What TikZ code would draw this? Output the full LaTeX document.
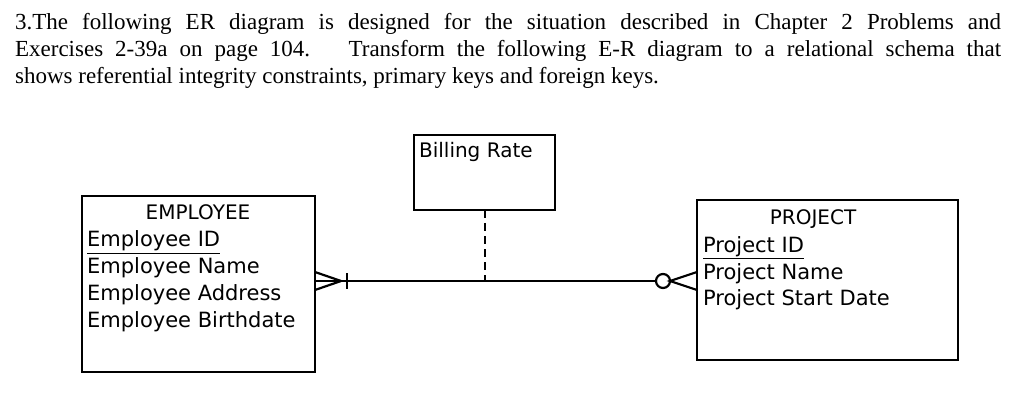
\documentclass[tikz,border=0pt]{standalone}
\usepackage{fontspec}
\setmainfont{Liberation Serif}
\newfontfamily\boxfont{DejaVu Sans}
\begin{document}
\begin{tikzpicture}[x=1pt,y=-1pt,line width=2.2pt,
  ent/.style={draw,line width=2pt},
  lbl/.style={anchor=base west,inner sep=0pt,font=\boxfont\fontsize{21}{24}\selectfont}]
\useasboundingbox (0,0) rectangle (1024,403);
\node[anchor=north west,inner sep=0pt,text width=986pt,align=justify,font=\fontsize{23}{27}\selectfont] (title) at (14,12)
{3.The following ER diagram is designed for the situation described in Chapter 2 Problems and\linebreak Exercises 2-39a on page 104. \ Transform the following E-R diagram to a relational schema that\linebreak shows referential integrity constraints, primary keys and foreign keys.};
\draw[ent] (82,196) rectangle (315,372);
\coordinate (empR) at (315,281);
\draw[ent] (697,200) rectangle (958,360);
\coordinate (prjL) at (697,281);
\draw[ent] (414,135) rectangle (555,210);
\coordinate (brB) at (485,210);
\node[lbl,font=\boxfont\fontsize{20}{24}\selectfont] (bt) at (418,158) {Billing Rate};
\node[lbl,anchor=base,font=\boxfont\fontsize{20}{24}\selectfont] (et) at (198,219) {EMPLOYEE};
\node[lbl] (e1) at (86,247) {\underline{Employee ID}};
\node[lbl] (e2) at (86,273) {Employee Name};
\node[lbl] (e3) at (86,300) {Employee Address};
\node[lbl] (e4) at (86,327) {Employee Birthdate};
\node[lbl,anchor=base,font=\boxfont\fontsize{20}{24}\selectfont] (pt) at (813,225) {PROJECT};
\node[lbl] (p1) at (702,252) {\underline{Project ID}};
\node[lbl] (p2) at (702,279) {Project Name};
\node[lbl] (p3) at (702,305) {Project Start Date};
\coordinate (cL) at (341,281);
\coordinate (cR) at (670,281);
\draw (empR) -- (656,281);
\draw (663,281) circle (7);
\draw (315,272) -- (cL) -- (315,290);
\draw (347,273) -- (347,289);
\draw (697,272) -- (cR) -- (697,290);
\draw[dash pattern=on 8pt off 5pt] (brB) -- (485,281);
\end{tikzpicture}
\end{document}
